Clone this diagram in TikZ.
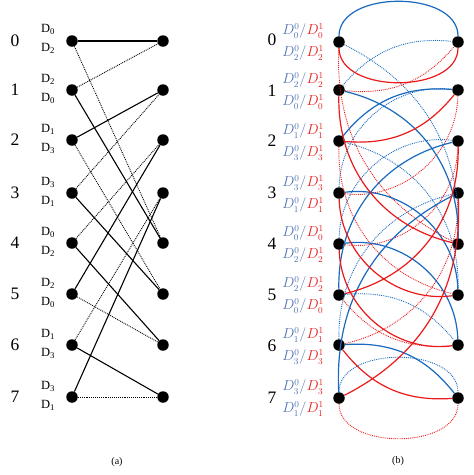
\documentclass[tikz,border=0pt]{standalone}
\usepackage{fontspec}
\setmainfont{Liberation Serif}
\definecolor{lineblue}{RGB}{25,105,190}
\definecolor{linered}{RGB}{235,25,25}
\definecolor{labelblue}{RGB}{80,115,180}
\definecolor{labelred}{RGB}{230,30,30}
\newcommand{\dpair}[1]{\textcolor{labelblue}{$D^0_{#1}/$}\textcolor{labelred}{$D^1_{#1}$}}
\newcommand{\dsub}[1]{D\textsubscript{#1}}
\tikzset{
  dot/.style={circle,fill=black,inner sep=0pt,minimum size=11.5pt},
  num/.style={font=\fontsize{17.5}{17.5}\selectfont},
  lab/.style={font=\fontsize{12.5}{19.5}\selectfont,align=center},
  plab/.style={font=\fontsize{13.5}{21.5}\selectfont,align=center},
  sol/.style={line width=1.1pt},
  dots/.style={densely dotted,line width=0.9pt},
  bsol/.style={lineblue,line width=1.2pt},
  rsol/.style={linered,line width=1.2pt},
  bdot/.style={lineblue,densely dotted,line width=0.9pt},
  rdot/.style={linered,densely dotted,line width=0.9pt}
}
\begin{document}
\begin{tikzpicture}[x=1pt,y=-1pt]
    \useasboundingbox (0,0) rectangle (474,475);

    % (a)
    \node[dot] (l0) at (72,41) {};  \node[dot] (r0) at (163,41) {};
    \node[dot] (l1) at (72,90) {};  \node[dot] (r1) at (163,90) {};
    \node[dot] (l2) at (72,140) {}; \node[dot] (r2) at (163,140) {};
    \node[dot] (l3) at (72,193) {}; \node[dot] (r3) at (163,193) {};
    \node[dot] (l4) at (72,243) {}; \node[dot] (r4) at (163,243) {};
    \node[dot] (l5) at (72,294) {}; \node[dot] (r5) at (163,294) {};
    \node[dot] (l6) at (72,345) {}; \node[dot] (r6) at (163,345) {};
    \node[dot] (l7) at (72,397) {}; \node[dot] (r7) at (163,397) {};

    \node[num] (n0) at (15,41) {0};  \node[lab] (d0) at (48,39) {\dsub{0}\\\dsub{2}};
    \node[num] (n1) at (15,90) {1};  \node[lab] (d1) at (48,89) {\dsub{2}\\\dsub{0}};
    \node[num] (n2) at (15,140) {2}; \node[lab] (d2) at (48,139) {\dsub{1}\\\dsub{3}};
    \node[num] (n3) at (15,193) {3}; \node[lab] (d3) at (48,192) {\dsub{3}\\\dsub{1}};
    \node[num] (n4) at (15,243) {4}; \node[lab] (d4) at (48,242) {\dsub{0}\\\dsub{2}};
    \node[num] (n5) at (15,294) {5}; \node[lab] (d5) at (48,293) {\dsub{2}\\\dsub{0}};
    \node[num] (n6) at (15,345) {6}; \node[lab] (d6) at (48,344) {\dsub{1}\\\dsub{3}};
    \node[num] (n7) at (15,397) {7}; \node[lab] (d7) at (48,396) {\dsub{3}\\\dsub{1}};

    \draw[sol] (l0) -- (r0);
    \draw[sol] (l1) -- (r4);
    \draw[sol] (l2) -- (r1);
    \draw[sol] (l3) -- (r5);
    \draw[sol] (l4) -- (r6);
    \draw[sol] (l5) -- (r2);
    \draw[sol] (l6) -- (r7);
    \draw[sol] (l7) -- (r3);

    \draw[dots] (l0) -- (r4);
    \draw[dots] (l1) -- (r0);
    \draw[dots] (l2) -- (r5);
    \draw[dots] (l3) -- (r1);
    \draw[dots] (l4) -- (r2);
    \draw[dots] (l5) -- (r6);
    \draw[dots] (l6) -- (r3);
    \draw[dots] (l7) -- (r7);

    \node (capa) at (117,462) {(a)};

    % (b)
    \node[dot] (p0) at (339,42) {};  \node[dot] (q0) at (458,42) {};
    \node[dot] (p1) at (339,90) {};  \node[dot] (q1) at (458,90) {};
    \node[dot] (p2) at (339,141) {}; \node[dot] (q2) at (458,141) {};
    \node[dot] (p3) at (339,193) {}; \node[dot] (q3) at (458,193) {};
    \node[dot] (p4) at (339,244) {}; \node[dot] (q4) at (458,244) {};
    \node[dot] (p5) at (339,295) {}; \node[dot] (q5) at (458,295) {};
    \node[dot] (p6) at (339,345) {}; \node[dot] (q6) at (458,345) {};
    \node[dot] (p7) at (339,398) {}; \node[dot] (q7) at (458,398) {};

    \node[num] (m0) at (272,40) {0};  \node[plab] (e0) at (303,42) {\dpair{0}\\\dpair{2}};
    \node[num] (m1) at (272,91) {1};  \node[plab] (e1) at (303,91) {\dpair{2}\\\dpair{0}};
    \node[num] (m2) at (272,141) {2}; \node[plab] (e2) at (303,142) {\dpair{1}\\\dpair{3}};
    \node[num] (m3) at (272,193) {3}; \node[plab] (e3) at (303,194) {\dpair{3}\\\dpair{1}};
    \node[num] (m4) at (272,244) {4}; \node[plab] (e4) at (303,244) {\dpair{0}\\\dpair{2}};
    \node[num] (m5) at (272,295) {5}; \node[plab] (e5) at (303,295) {\dpair{2}\\\dpair{0}};
    \node[num] (m6) at (272,346) {6}; \node[plab] (e6) at (303,346) {\dpair{1}\\\dpair{3}};
    \node[num] (m7) at (272,398) {7}; \node[plab] (e7) at (303,398) {\dpair{3}\\\dpair{1}};

    \draw[bdot] (p0) to[bend left=33] (q4);
    \draw[bdot] (p1) to[bend left=28] (q0);
    \draw[bdot] (p2) to[bend left=39] (q5);
    \draw[bdot] (p3) to[bend left=48] (q1);
    \draw[bdot] (p4) to[bend left=48] (q2);
    \draw[bdot] (p5) to[bend left=28] (q6);
    \draw[bdot] (p6) to[bend left=39] (q3);
    \draw[bdot] (p7) to[bend left=90] (q7);

    \draw[rdot] (p0) to[bend right=33] (q4);
    \draw[rdot] (p1) to[bend right=28] (q0);
    \draw[rdot] (p2) to[bend right=39] (q5);
    \draw[rdot] (p3) to[bend right=48] (q1);
    \draw[rdot] (p4) to[bend right=48] (q2);
    \draw[rdot] (p5) to[bend right=28] (q6);
    \draw[rdot] (p6) to[bend right=39] (q3);
    \draw[rdot] (p7) to[bend right=90] (q7);

    \draw[bsol] (p0) to[bend left=90] (q0);
    \draw[bsol] (p1) to[bend left=39] (q4);
    \draw[bsol] (p2) to[bend left=28] (q1);
    \draw[bsol] (p3) to[bend left=48] (q5);
    \draw[bsol] (p4) to[bend left=48] (q6);
    \draw[bsol] (p5) to[bend left=39] (q2);
    \draw[bsol] (p6) to[bend left=28] (q7);
    \draw[bsol] (p7) to[bend left=33] (q3);

    \draw[rsol] (p0) to[bend right=90] (q0);
    \draw[rsol] (p1) to[bend right=39] (q4);
    \draw[rsol] (p2) to[bend right=28] (q1);
    \draw[rsol] (p3) to[bend right=48] (q5);
    \draw[rsol] (p4) to[bend right=48] (q6);
    \draw[rsol] (p5) to[bend right=39] (q2);
    \draw[rsol] (p6) to[bend right=28] (q7);
    \draw[rsol] (p7) to[bend right=33] (q3);

    \node (capb) at (398,461) {(b)};
\end{tikzpicture}
\end{document}
